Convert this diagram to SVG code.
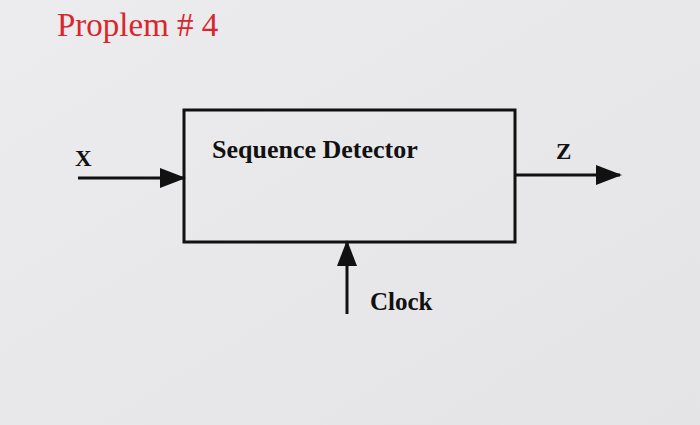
<svg xmlns="http://www.w3.org/2000/svg" width="700" height="425" viewBox="0 0 700 425">
<defs>
<marker id="ah" markerWidth="26" markerHeight="20" refX="24" refY="10" orient="auto" markerUnits="userSpaceOnUse" viewBox="0 0 26 20"><path d="M0,0 L26,10 L0,20 z" fill="#111"/></marker>
<linearGradient id="bg" x1="0" y1="0" x2="1" y2="1"><stop offset="0" stop-color="#ececee"/><stop offset="1" stop-color="#e4e4e6"/></linearGradient>
<style>
.t{font-family:"Liberation Serif",serif;fill:#111;font-weight:bold}
.c{stroke:#111;stroke-width:3;fill:none}
</style>
</defs>
<rect width="700" height="425" fill="url(#bg)"/>
<text x="57" y="36" font-family="Liberation Serif,serif" font-size="33" fill="#d8262c">Proplem # 4</text>
<g id="detector"><rect x="184" y="110" width="331" height="132" fill="none" stroke="#111" stroke-width="3"/>
<text class="t" x="212" y="158" font-size="26">Sequence Detector</text></g>
<g id="X"><text class="t" x="75" y="166" font-size="23">X</text></g>
<g id="Z"><text class="t" x="556" y="159" font-size="23">Z</text></g>
<g id="Clock"><text class="t" x="370" y="310" font-size="25">Clock</text></g>
<g id="connectors">
<line class="c" x1="78" y1="178" x2="184" y2="178" marker-end="url(#ah)"/>
<line class="c" x1="516" y1="175" x2="620" y2="175" marker-end="url(#ah)"/>
<line class="c" x1="347" y1="314" x2="347" y2="242" marker-end="url(#ah)"/>
</g>
</svg>
